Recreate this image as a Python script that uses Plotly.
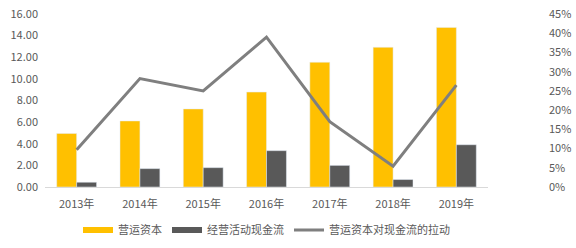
import plotly.graph_objects as go

years = ["2013年", "2014年", "2015年", "2016年", "2017年", "2018年", "2019年"]
working_capital = [4.95, 6.11, 7.22, 8.78, 11.54, 12.92, 14.76]
operating_cf = [0.44, 1.70, 1.79, 3.36, 2.00, 0.69, 3.91]
pull_ratio = [0.097, 0.282, 0.250, 0.390, 0.170, 0.054, 0.265]

names = ["营运资本", "经营活动现金流", "营运资本对现金流的拉动"]
colors = ["#FFC000", "#595959", "#7F7F7F"]
font_family = "Noto Sans CJK SC, Noto Sans, sans-serif"
text_color = "#595959"

fig = go.Figure()
fig.add_trace(go.Bar(x=years, y=working_capital, name=names[0], marker_color=colors[0],
                     showlegend=False, yaxis="y"))
fig.add_trace(go.Bar(x=years, y=operating_cf, name=names[1], marker_color=colors[1],
                     showlegend=False, yaxis="y"))
fig.add_trace(go.Scatter(x=years, y=pull_ratio, name=names[2], mode="lines",
                         line=dict(color=colors[2], width=3), showlegend=False, yaxis="y2"))

# legend entries
fig.add_trace(go.Scatter(x=[None], y=[None], mode="lines", name=names[0],
                         line=dict(color=colors[0], width=6)))
fig.add_trace(go.Scatter(x=[None], y=[None], mode="lines", name=names[1],
                         line=dict(color=colors[1], width=6)))
fig.add_trace(go.Scatter(x=[None], y=[None], mode="lines", name=names[2],
                         line=dict(color=colors[2], width=3)))

fig.update_layout(
    width=576, height=248,
    margin=dict(l=45, r=88, t=14, b=61, autoexpand=False),
    paper_bgcolor="white", plot_bgcolor="white",
    font=dict(family=font_family, size=11, color=text_color),
    barmode="group", bargap=0.37, bargroupgap=0,
    xaxis=dict(showline=True, linecolor="#D9D9D9", linewidth=1, ticks="",
               showgrid=False, ticklabelstandoff=7,
               tickfont=dict(size=11, color=text_color)),
    yaxis=dict(range=[0, 16], dtick=2, tickformat=".2f", showgrid=False,
               zeroline=False, ticks="", ticklabelstandoff=6,
               tickfont=dict(size=11, color=text_color)),
    yaxis2=dict(range=[0, 0.45], dtick=0.05, tickformat=".0%", overlaying="y",
                side="right", showgrid=False, zeroline=False, ticks="",
                ticklabelstandoff=60, tickfont=dict(size=11, color=text_color)),
    legend=dict(orientation="h", x=0.5, xanchor="center",
                yref="container", y=0.073, yanchor="middle",
                font=dict(size=11, color=text_color), itemwidth=30,
                traceorder="normal"),
)

fig.write_html("out.html")
